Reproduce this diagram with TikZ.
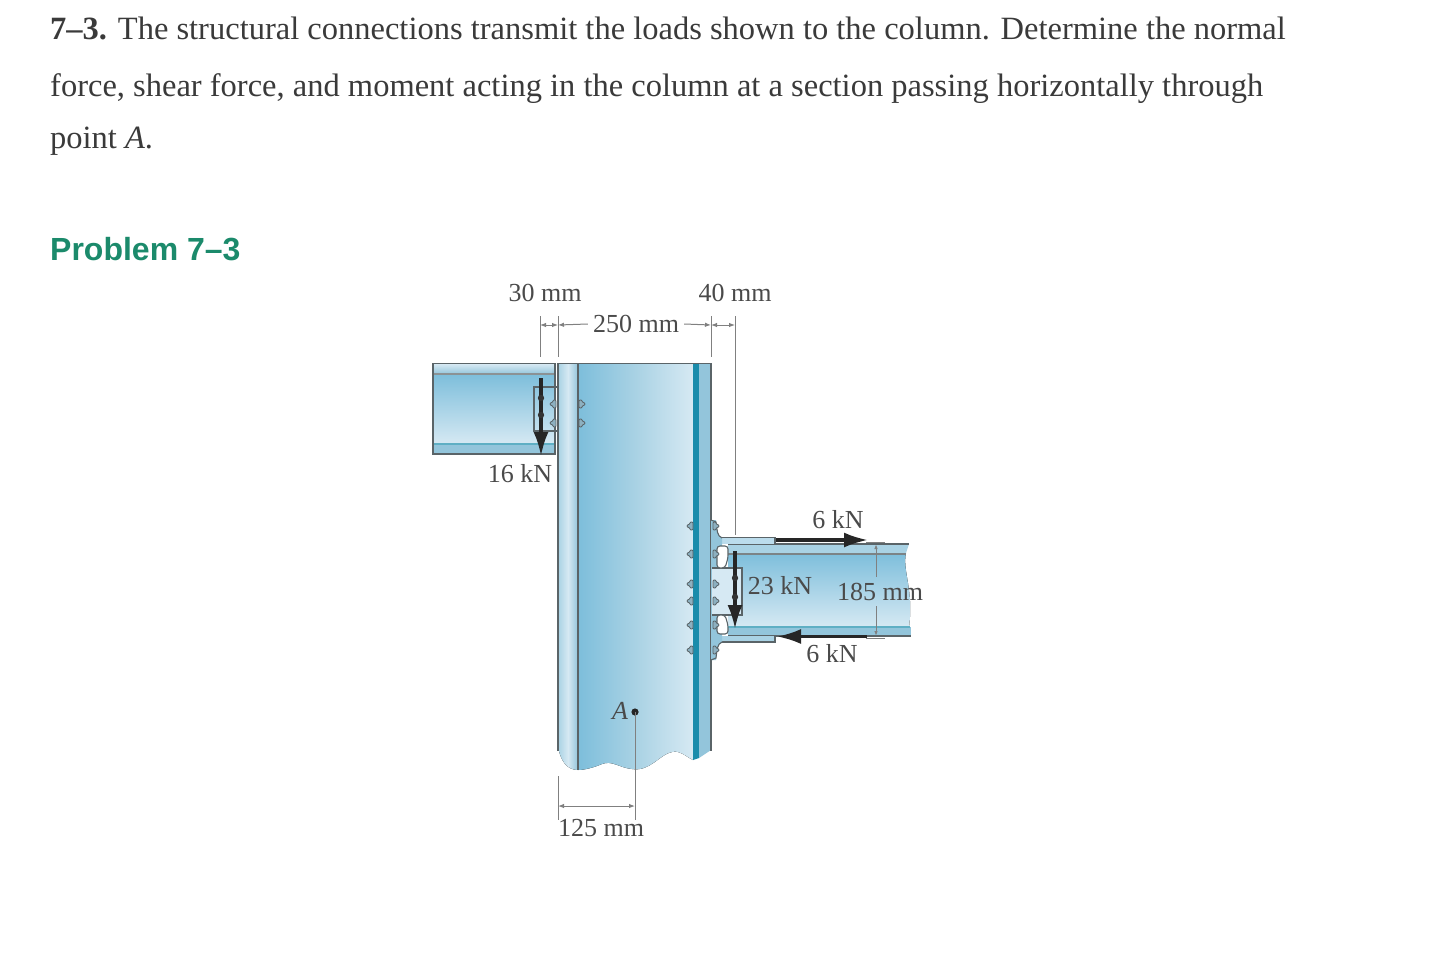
\documentclass[tikz,border=0pt]{standalone}
\usepackage{fontspec}
\setmainfont{Liberation Serif}
\newfontfamily\headfont{Liberation Sans}
\usetikzlibrary{arrows.meta}
\definecolor{bodyink}{HTML}{3A3A3A}
\definecolor{headgreen}{HTML}{1B8A6B}
\definecolor{figink}{HTML}{4A4A4A}
\definecolor{steeldark}{HTML}{7DBEDB}
\definecolor{steelmid}{HTML}{A9D2E4}
\definecolor{steellight}{HTML}{D6E9F3}
\definecolor{flangeblue}{HTML}{93C5DB}
\definecolor{stripeteal}{HTML}{1A8CAB}
\definecolor{edgegrey}{HTML}{5A6468}
\tikzset{
  bodytext/.style={anchor=base west,inner sep=0pt,text=bodyink,font=\fontsize{32.5}{32.5}\selectfont},
  dimtext/.style={inner sep=0pt,text=figink,font=\fontsize{26}{26}\selectfont},
  dimline/.style={draw=black!50,line width=1pt},
  dimarrow/.style={dimline,{Latex[length=6pt,width=4.5pt]}-{Latex[length=6pt,width=4.5pt]}},
  outline/.style={draw=edgegrey,line width=1.7pt},
  thinedge/.style={draw=edgegrey,line width=1.1pt},
  force/.style={draw=black!85,line width=3.2pt,-{Latex[length=24pt,width=15pt]}},
  boltmark/.style={fill=flangeblue!70!gray,draw=edgegrey,line width=0.8pt,rounded corners=1pt},
}
% bolt head plus shank, #3 is the side it points to
\newcommand{\boltat}[3]{\draw[boltmark] (#1,#2-4) -- (#1+#3*3,#2-4) -- (#1+#3*3,#2-2) -- (#1+#3*6,#2-1) -- (#1+#3*6,#2+1) -- (#1+#3*3,#2+2) -- (#1+#3*3,#2+4) -- (#1,#2+4) -- cycle;}
\begin{document}
\begin{tikzpicture}[x=1pt,y=-1pt]
  \useasboundingbox (0,0) rectangle (1456,958);
  % problem text
  \node[bodytext] (lineone) at (50,40) {\textbf{7–3.} The structural connections transmit the loads shown to the column. Determine the normal};
  \node[bodytext] (linetwo) at (50,96) {force, shear force, and moment acting in the column at a section passing horizontally through};
  \node[bodytext] (linethree) at (50,148) {point \textit{A}.};
  \node[anchor=base west,inner sep=0pt,text=headgreen,font=\headfont\bfseries\fontsize{32}{32}\selectfont] (probhead) at (50,260) {Problem 7–3};
  % left beam
  \fill[top color=steeldark,bottom color=steellight] (433,374) rectangle (555,444);
  \fill[top color=steellight,bottom color=flangeblue] (433,364) rectangle (555,374);
  \fill[flangeblue] (433,444) rectangle (555,454);
  \draw[draw=edgegrey!70,line width=1.4pt] (433,374) -- (555,374);
  \draw[draw=stripeteal!70,line width=1.4pt] (433,444) -- (555,444);
  \draw[outline] (433,363.5) rectangle (555,454);
  % column
  \fill[left color=steeldark,right color=steellight,middle color=steelmid] (578,364) -- (693,364) -- (693,760)
    .. controls (685,756) and (680,750) .. (672,752) .. controls (660,754) and (650,772) .. (632,769)
    .. controls (620,768) and (612,760) .. (602,764) .. controls (595,767) and (585,770) .. (578,770) -- cycle;
  \fill[left color=steelmid,right color=flangeblue,middle color=steellight] (558,364) -- (578,364) -- (578,770)
    .. controls (568,770) and (560,762) .. (558,745) -- cycle;
  \fill[stripeteal] (693,364) -- (699,364) -- (699,758) -- (693,760) -- cycle;
  \fill[flangeblue] (699,364) -- (711,364) -- (711,750) -- (699,758) -- cycle;
  \draw[outline] (558,751) -- (558,363.5) -- (711,363.5) -- (711,751);
  \draw[thinedge] (578,364) -- (578,770);
  % left clip
  \draw[thinedge] (534,387) rectangle (558,431);
  \foreach \y in {404,423} {
    \boltat{556}{\y}{-1}
    \boltat{579}{\y}{1}
  }
  % right beam
  \fill[top color=steeldark,bottom color=steellight] (728,553) -- (906,553) .. controls (902,570) and (914,590) .. (909,627) -- (728,627) -- cycle;
  \fill[steelmid] (728,544) -- (909,544) -- (906,553) -- (728,553) -- cycle;
  \fill[flangeblue] (728,627) rectangle (911,636);
  \draw[draw=edgegrey!80,line width=1.4pt] (728,554) -- (906,554);
  \draw[draw=stripeteal!70,line width=1.4pt] (728,627) -- (910,627);
  \draw[outline] (728,544) -- (909,544);
  \draw[outline] (728,636) -- (911,636);
  % right connection
  \fill[steellight!70!steeldark] (718,538) rectangle (775,544);
  \fill[steelmid] (718,636) rectangle (775,642);
  \draw[outline] (716,537.5) -- (775,537.5) -- (775,544);
  \draw[outline] (775,636) -- (775,642) -- (716,642);
  \fill[flangeblue] (711,520) -- (716,520) .. controls (717,530) and (717,536) .. (722,538) -- (722,642) .. controls (717,644) and (717,650) .. (716,660) -- (711,660) -- cycle;
  \draw[thinedge] (711,520) -- (716,522) .. controls (717,530) and (717,536) .. (722,538);
  \draw[thinedge] (722,642) .. controls (717,644) and (717,650) .. (716,658) -- (711,660);
  \fill[steellight] (712,568) rectangle (742,615);
  \draw[thinedge] (712,568) -- (742,568) -- (742,615) -- (712,615);
  \draw[thinedge,fill=white,rounded corners=3pt] (717,546) -- (728,546) -- (728,558) -- (725,568) -- (717,568) -- cycle;
  \draw[thinedge,fill=white,rounded corners=3pt] (717,615) -- (725,615) -- (728,625) -- (728,634) -- (717,634) -- cycle;
  \foreach \y in {526,554,584,601,625,650} {
    \boltat{693}{\y}{-1}
    \boltat{713}{\y}{1}
  }
  % dimensions on top
  \coordinate (exta) at (540,316);
  \coordinate (extatop) at (540,357);
  \coordinate (extb) at (558,316);
  \coordinate (extbtop) at (558,357);
  \coordinate (extc) at (711,316);
  \coordinate (extctop) at (711,357);
  \coordinate (extd) at (735,316);
  \coordinate (extdtop) at (735,535);
  \draw[dimline] (exta) -- (extatop);
  \draw[dimline] (extb) -- (extbtop);
  \draw[dimline] (extc) -- (extctop);
  \draw[dimline] (extd) -- (extdtop);
  \node[dimtext] (dimthirty) at (545,293) {30 mm};
  \node[dimtext] (dimforty) at (735,293) {40 mm};
  \node[dimtext] (dimtwofifty) at (636,324) {250 mm};
  \draw[dimarrow] (540,325) -- (558,325);
  \draw[dimline,-{Latex[length=6pt,width=4.5pt]}] (dimtwofifty.east) ++(5,0) -- (711,325);
  \draw[dimline,-{Latex[length=6pt,width=4.5pt]}] (dimtwofifty.west) ++(-5,0) -- (558,325);
  \draw[dimarrow] (711,325) -- (735,325);
  % forces
  \draw[force] (541,378) -- (541,456);
  \foreach \y in {398,415} \fill[black!80] (541,\y) circle (3.2pt);
  \node[dimtext] (loadsixteen) at (520,474) {16 kN};
  \draw[force] (735,551) -- (735,629);
  \foreach \y in {578,597} \fill[black!80] (735,\y) circle (3.2pt);
  \node[dimtext] (loadtwentythree) at (780,586) {23 kN};
  \draw[force] (776,540) -- (868,540);
  \node[dimtext] (loadsixtop) at (838,520) {6 kN};
  \draw[force] (867,636.5) -- (777,636.5);
  \node[dimtext] (loadsixbot) at (832,654) {6 kN};
  % depth of beam
  \node[dimtext] (dimdepth) at (880,592) {185 mm};
  \coordinate (depthtop) at (876,544);
  \coordinate (depthbot) at (876,636);
  \draw[dimline] (866,542.5) -- (885,542.5);
  \draw[dimline] (866,638) -- (885,638);
  \draw[dimline,{Latex[length=5pt,width=3.5pt]}-] (depthtop) -- (876,577);
  \draw[dimline,-{Latex[length=5pt,width=3.5pt]}] (876,606) -- (depthbot);
  % point A
  \node[inner sep=0pt,text=figink,font=\fontsize{26}{26}\selectfont\itshape] (labelA) at (620,711) {A};
  \fill[black!85] (635,712) circle (3.6pt);
  \coordinate (pointA) at (635,712);
  \coordinate (Afoot) at (635,820);
  \coordinate (leftfoot) at (558,820);
  \coordinate (lefthead) at (558,776);
  \draw[dimline] (pointA) -- (Afoot);
  \draw[dimline] (lefthead) -- (leftfoot);
  \draw[dimarrow] (558,806) -- (635,806);
  \node[dimtext] (dimonetwofive) at (601,828) {125 mm};
\end{tikzpicture}
\end{document}
